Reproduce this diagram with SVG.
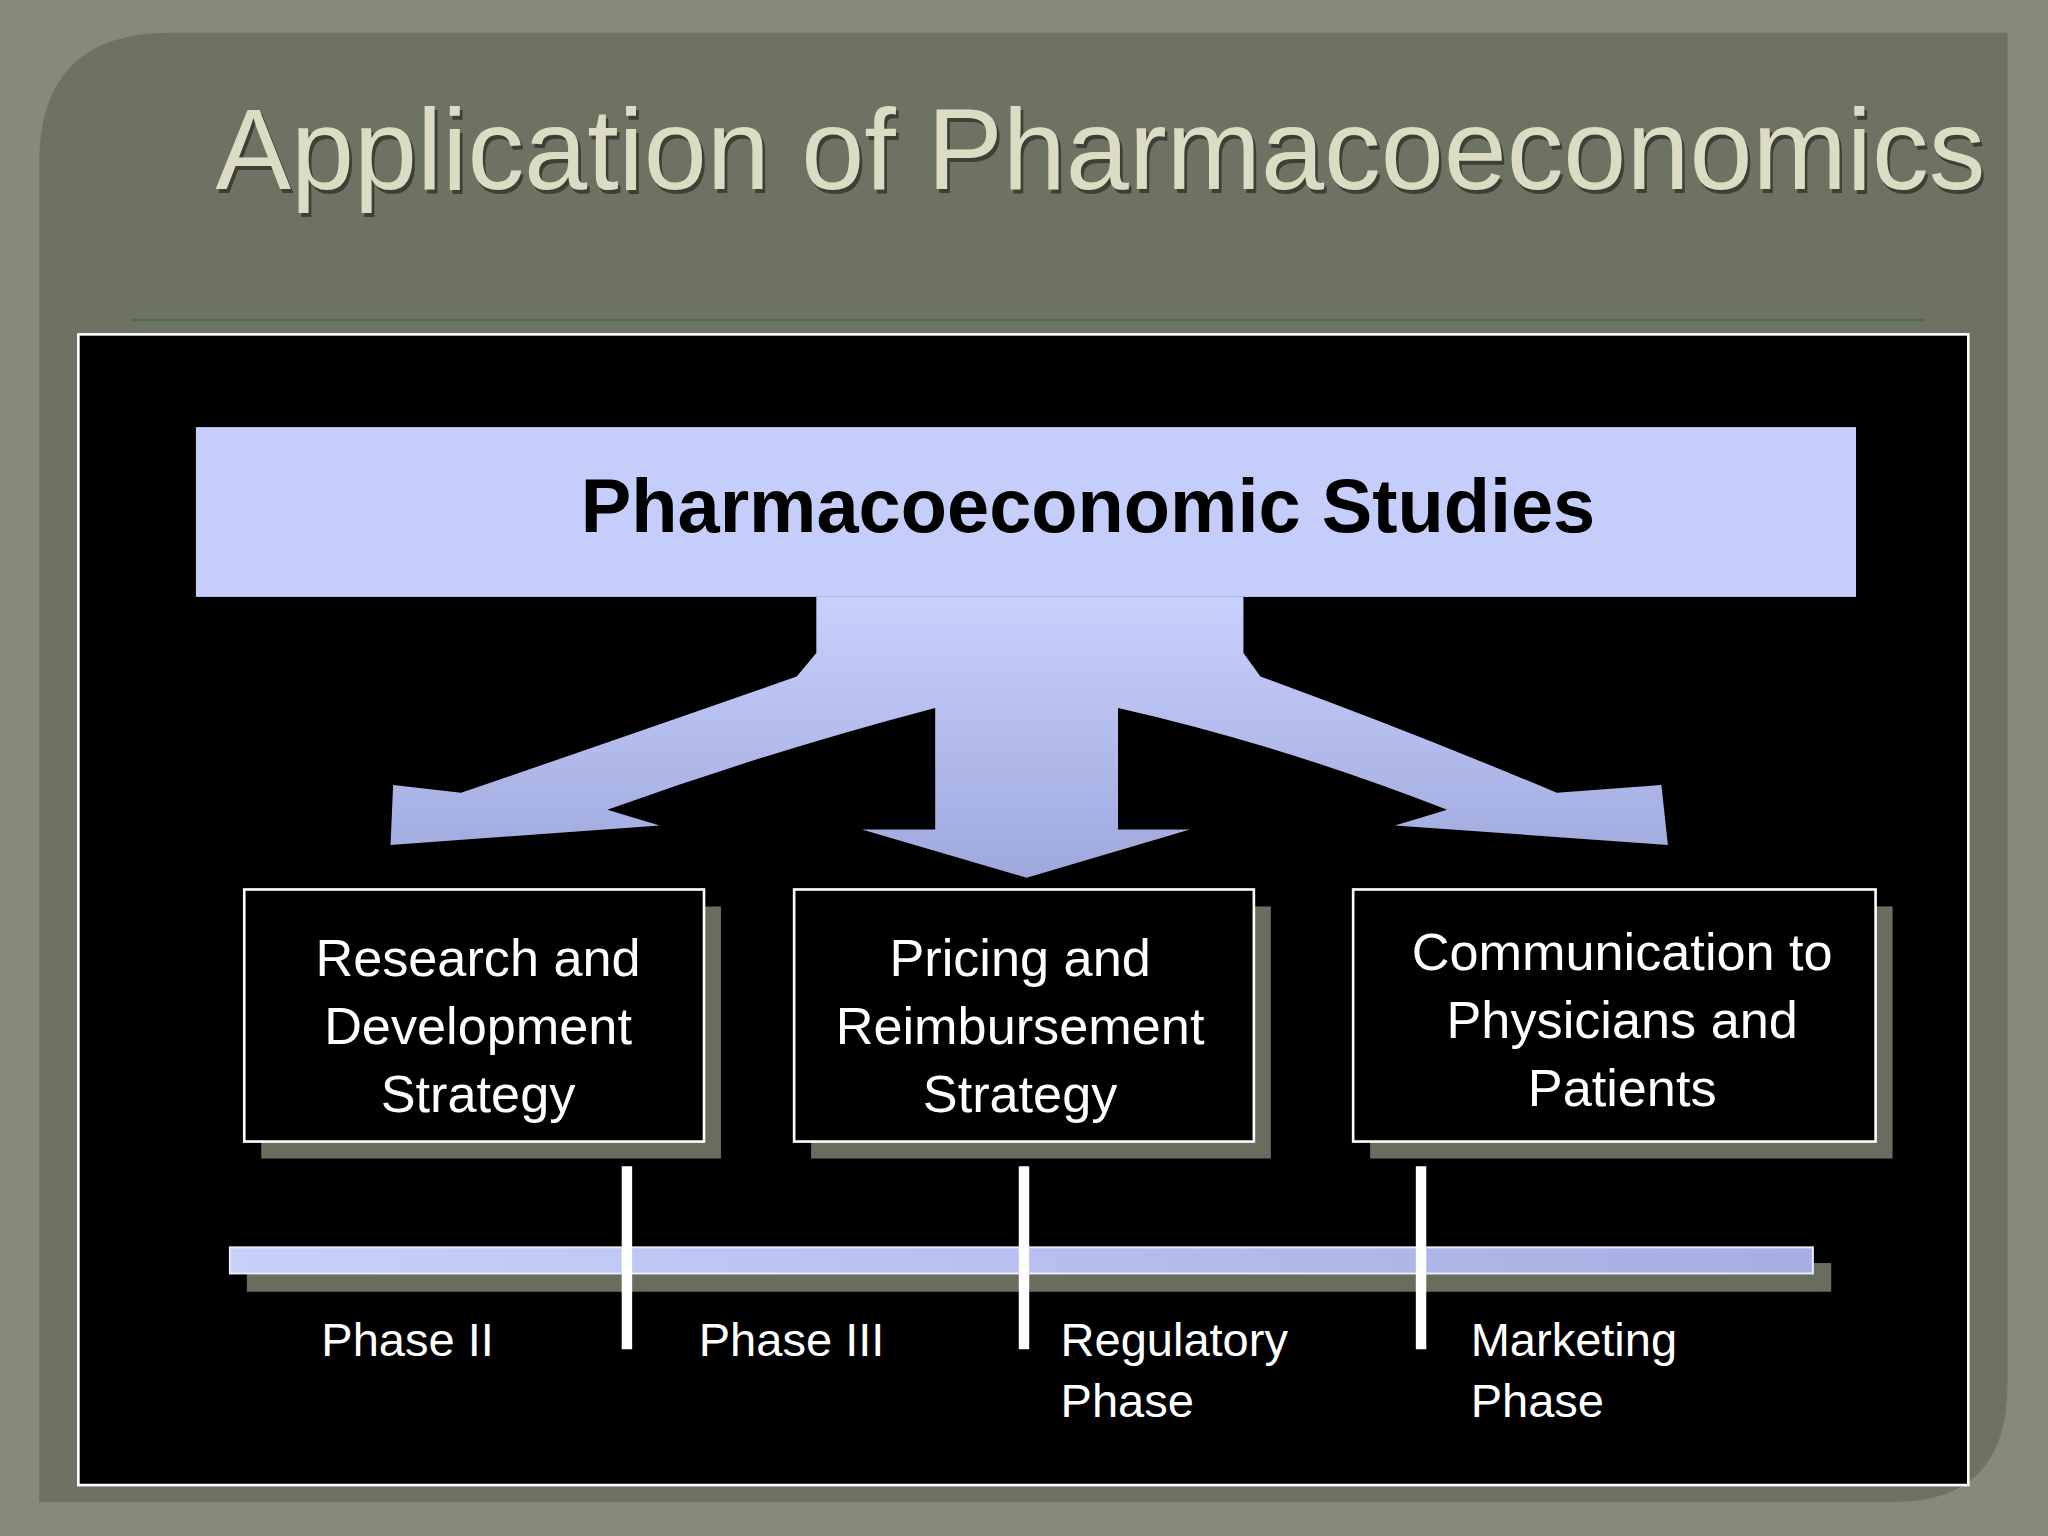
<svg xmlns="http://www.w3.org/2000/svg" width="2048" height="1536" viewBox="0 0 2048 1536">
<defs>
<linearGradient id="ag" x1="0" y1="0" x2="0" y2="1"><stop offset="0" stop-color="#c8d0fc"/><stop offset="1" stop-color="#9ea8dc"/></linearGradient>
<linearGradient id="bg" x1="0" y1="0" x2="1" y2="0"><stop offset="0" stop-color="#c8d0fa"/><stop offset="1" stop-color="#a6aee2"/></linearGradient>
<style>
.box{fill:#000;stroke:#fff;stroke-width:2}
.sh{fill:#6a6d5e}
.t{font-family:"Liberation Sans",Arial,sans-serif;fill:#fff;font-size:40px;text-anchor:middle}
.p{font-family:"Liberation Sans",Arial,sans-serif;fill:#fff;font-size:36px}
.v{stroke:#fff;stroke-width:8}
</style>
</defs>
<rect width="2048" height="1536" fill="#878a78"/>
<g transform="scale(1.30612)">
<path d="M130,25 L1537,25 L1537,1060 Q1537,1150 1450,1150 L30,1150 L30,125 Q30,25 130,25 Z" fill="#6d7262"/>
<text x="165" y="145" font-family="'Liberation Sans',Arial,sans-serif" font-size="88" fill="#3e4036" textLength="1355" lengthAdjust="spacingAndGlyphs" transform="translate(2,3)">Application of Pharmacoeconomics</text>
<text x="165" y="145" font-family="'Liberation Sans',Arial,sans-serif" font-size="88" fill="#dcdcc4" textLength="1355" lengthAdjust="spacingAndGlyphs">Application of Pharmacoeconomics</text>
<line x1="100" y1="245" x2="1473" y2="245" stroke="#4f6a4f" stroke-width="2"/>
<rect x="60" y="256" width="1447" height="881" fill="#000" stroke="#fff" stroke-width="2"/>
<g id="header">
<rect x="150" y="327" width="1271" height="130" fill="#c5cdfa"/>
<text x="833" y="407" font-family="'Liberation Sans',Arial,sans-serif" font-weight="bold" font-size="58" text-anchor="middle" fill="#000">Pharmacoeconomic Studies</text>
</g>
<g id="connectors">
<path d="M625,457 L952,457 L952,500 L965,518 Q1080,560 1192,607 L1272,601 L1277,647 L1068,632 L1108,620 Q980,570 856,542 L856,635 L911,635 L786,672 L660,635 L716,635 L716,542 Q590,575 465,620 L505,632 L299,647 L301,601 L353,607 Q490,560 610,518 L625,500 Z" fill="url(#ag)"/>
</g>
<g id="rd">
<rect class="sh" x="200" y="694" width="352" height="193"/>
<rect class="box" x="187" y="681" width="352" height="193"/>
<text class="t" x="366" y="747">Research and</text><text class="t" x="366" y="799">Development</text><text class="t" x="366" y="851">Strategy</text>
</g>
<g id="pricing">
<rect class="sh" x="621" y="694" width="352" height="193"/>
<rect class="box" x="608" y="681" width="352" height="193"/>
<text class="t" x="781" y="747">Pricing and</text><text class="t" x="781" y="799">Reimbursement</text><text class="t" x="781" y="851">Strategy</text>
</g>
<g id="comm">
<rect class="sh" x="1049" y="694" width="400" height="193"/>
<rect class="box" x="1036" y="681" width="400" height="193"/>
<text class="t" x="1242" y="743">Communication to</text><text class="t" x="1242" y="795">Physicians and</text><text class="t" x="1242" y="847">Patients</text>
</g>
<g id="timeline">
<rect class="sh" x="189" y="967" width="1213" height="22"/>
<rect x="176" y="955" width="1212" height="20" fill="url(#bg)" stroke="#e8ecff" stroke-width="1.5"/>
<line class="v" x1="480" y1="893" x2="480" y2="1033"/>
<line class="v" x1="784" y1="893" x2="784" y2="1033"/>
<line class="v" x1="1088" y1="893" x2="1088" y2="1033"/>
<text class="p" x="246" y="1038">Phase II</text>
<text class="p" x="535" y="1038">Phase III</text>
<text class="p" x="812" y="1038">Regulatory</text><text class="p" x="812" y="1085">Phase</text>
<text class="p" x="1126" y="1038">Marketing</text><text class="p" x="1126" y="1085">Phase</text>
</g>
</g>
</svg>
